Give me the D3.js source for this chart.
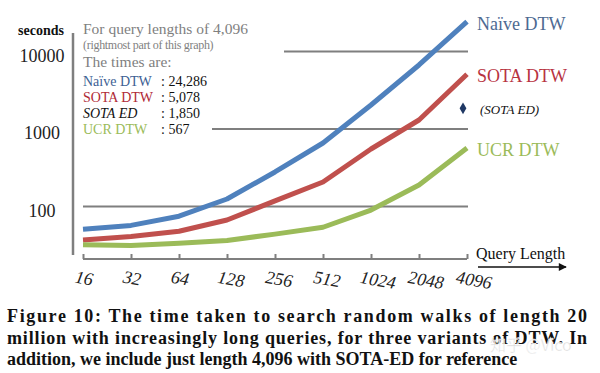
<!DOCTYPE html>
<html>
<head>
<meta charset="utf-8">
<script src="https://cdn.jsdelivr.net/npm/d3@7"></script>
<style>
  body { margin: 0; background: #fff; }
  svg { display: block; font-family: "Liberation Serif", "Times New Roman", serif; }
</style>
</head>
<body>
<svg id="chart" width="600" height="373"></svg>
<script>
// query lengths on the x axis
var queryLengths = [16, 32, 64, 128, 256, 512, 1024, 2048, 4096];

// seconds (last points from the annotation box)
var naiveDTW = [51, 57, 75, 125, 279, 660, 2040, 6700, 24286];
var sotaDTW  = [37, 41, 48, 67, 118, 207, 552, 1306, 5078];
var ucrDTW   = [32, 31.5, 33.5, 36.5, 44, 54, 90, 189, 567];
var sotaED   = [{ length: 4096, value: 1850 }];

var yTicks = [100, 1000, 10000];

var seriesNames  = ['Naïve DTW', 'SOTA DTW', 'UCR DTW'];
var seriesValues = [naiveDTW, sotaDTW, ucrDTW];
var seriesColors = ['#4f81bd', '#c0504d', '#9bbb59'];
var labelColors  = ['#4e6a92', '#b8333f', '#9bbb59'];

var boxTimes = [
    { name: 'Naïve DTW', value: '24,286', color: '#3d5f94', italic: false },
    { name: 'SOTA DTW',  value: '5,078',  color: '#b02a36', italic: false },
    { name: 'SOTA ED',   value: '1,850',  color: '#111',    italic: true },
    { name: 'UCR DTW',   value: '567',    color: '#9bbb59', italic: false }
];

var caption = [
    'Figure 10: The time taken to search random walks of length 20',
    'million with increasingly long queries, for three variants of DTW. In',
    'addition, we include just length 4,096 with SOTA-ED for reference'
];

var svg = d3.select('#chart');

var x = d3.scaleLog().base(2)
        .domain([16, 4096])
        .range([83, 467]);
var y = d3.scaleLog()
        .domain([100, 10000])
        .range([206.5, 51.5]);

// gridlines start further right where the text box sits
var gridStart = { 100: 83, 1000: 212, 10000: 284 };

svg.selectAll('.grid')
    .data(yTicks)
    .enter().append('line')
    .attr('class', 'grid')
    .attr('x1', function(d) { return gridStart[d]; })
    .attr('x2', 468)
    .attr('y1', function(d) { return y(d); })
    .attr('y2', function(d) { return y(d); })
    .attr('stroke', '#7f7f7f')
    .attr('stroke-width', 2);

// y axis
svg.append('line')
    .attr('x1', 73).attr('x2', 73)
    .attr('y1', 33).attr('y2', 255)
    .attr('stroke', '#7f7f7f')
    .attr('stroke-width', 2.5);

svg.selectAll('.ytick')
    .data(yTicks)
    .enter().append('text')
    .attr('class', 'ytick')
    .attr('x', 42)
    .attr('y', function(d) { return y(d) + 10; })
    .attr('text-anchor', 'middle')
    .attr('font-size', 18)
    .attr('fill', '#222')
    .text(function(d) { return d; });

svg.append('text')
    .attr('x', 18).attr('y', 35)
    .attr('font-size', 14)
    .attr('font-weight', 'bold')
    .attr('fill', '#111')
    .text('seconds');

// x axis
var xAxis = svg.append('g')
    .attr('transform', 'translate(0,259)')
    .call(d3.axisTop(x).tickValues(queryLengths).tickSize(5).tickFormat(''));
xAxis.select('.domain').remove();
xAxis.selectAll('.tick line')
    .attr('stroke', '#7f7f7f')
    .attr('stroke-width', 2);
xAxis.append('line')
    .attr('x1', x(16)).attr('x2', x(4096))
    .attr('stroke', '#7f7f7f')
    .attr('stroke-width', 2);

svg.selectAll('.xtick')
    .data(queryLengths)
    .enter().append('text')
    .attr('class', 'xtick')
    .attr('text-anchor', 'middle')
    .attr('font-size', 18)
    .attr('font-style', 'italic')
    .attr('fill', '#222')
    .attr('transform', function(d) {
        var n = String(d).length;
        return 'translate(' + (x(d) + (n - 2) * 3) + ',' + (284 + (n - 2)) + ') rotate(10)';
    })
    .text(function(d) { return d; });

svg.append('text')
    .attr('x', 476).attr('y', 259)
    .attr('font-size', 16)
    .attr('fill', '#111')
    .text('Query Length');

svg.append('defs').append('marker')
    .attr('id', 'arrow')
    .attr('viewBox', '0 0 10 10')
    .attr('refX', 9).attr('refY', 5)
    .attr('markerWidth', 10).attr('markerHeight', 8)
    .attr('markerUnits', 'userSpaceOnUse')
    .attr('orient', 'auto')
    .append('path')
    .attr('d', 'M0,0L10,5L0,10Z')
    .attr('fill', '#111');

svg.append('line')
    .attr('x1', 478).attr('x2', 566)
    .attr('y1', 267).attr('y2', 267)
    .attr('stroke', '#111')
    .attr('stroke-width', 1.3)
    .attr('marker-end', 'url(#arrow)');

// series lines
var line = d3.line()
    .x(function(d, i) { return x(queryLengths[i]); })
    .y(function(d) { return y(d); });

svg.selectAll('.series')
    .data(seriesValues)
    .enter().append('path')
    .attr('class', 'series')
    .attr('d', line)
    .attr('fill', 'none')
    .attr('stroke', function(d, i) { return seriesColors[i]; })
    .attr('stroke-width', 5)
    .attr('stroke-linejoin', 'round');

// SOTA ED point
svg.selectAll('.ed')
    .data(sotaED)
    .enter().append('path')
    .attr('class', 'ed')
    .attr('d', d3.symbol(d3.symbolDiamond, 40))
    .attr('transform', function(d) { return 'translate(' + (x(d.length) - 4) + ',' + y(d.value) + ')'; })
    .attr('fill', '#1f3864');

svg.append('text')
    .attr('x', 480)
    .attr('y', y(sotaED[0].value) + 6)
    .attr('font-size', 13)
    .attr('font-style', 'italic')
    .attr('fill', '#111')
    .text('(SOTA ED)');

// series labels at the right
svg.selectAll('.slabel')
    .data(seriesNames)
    .enter().append('text')
    .attr('class', 'slabel')
    .attr('x', 477)
    .attr('y', function(d, i) { return y(seriesValues[i][8]) + 8; })
    .attr('font-size', 18)
    .attr('fill', function(d, i) { return labelColors[i]; })
    .text(function(d) { return d; });

// text box
svg.append('text')
    .attr('x', 83).attr('y', 34)
    .attr('font-size', 15.5)
    .attr('fill', '#7f7f7f')
    .text('For query lengths of 4,096');
svg.append('text')
    .attr('x', 83).attr('y', 49)
    .attr('font-size', 12)
    .attr('letter-spacing', -0.3)
    .attr('fill', '#7f7f7f')
    .text('(rightmost part of this graph)');
svg.append('text')
    .attr('x', 83).attr('y', 67)
    .attr('font-size', 15.5)
    .attr('fill', '#7f7f7f')
    .text('The times are:');

var rows = svg.selectAll('.boxrow')
    .data(boxTimes)
    .enter().append('g')
    .attr('class', 'boxrow')
    .attr('transform', function(d, i) { return 'translate(83,' + (86 + i * 16) + ')'; });
rows.append('text')
    .attr('font-size', 14)
    .attr('font-style', function(d) { return d.italic ? 'italic' : 'normal'; })
    .attr('fill', function(d) { return d.color; })
    .text(function(d) { return d.name; });
rows.append('text')
    .attr('x', 78)
    .attr('font-size', 14)
    .attr('fill', '#111')
    .text(function(d) { return ': ' + d.value; });

// caption
svg.selectAll('.caption')
    .data(caption)
    .enter().append('text')
    .attr('class', 'caption')
    .attr('x', 7)
    .attr('y', function(d, i) { return 322 + i * 21.5; })
    .attr('font-size', 18)
    .attr('font-weight', 'bold')
    .attr('fill', '#111')
    .attr('textLength', function(d, i) { return i < 2 ? 580 : null; })
    .attr('lengthAdjust', 'spacing')
    .text(function(d) { return d; });

// watermark
svg.append('text')
    .attr('x', 490).attr('y', 351)
    .attr('font-size', 16)
    .attr('font-family', '"Noto Sans CJK SC", sans-serif')
    .attr('fill', '#d0d0d0')
    .attr('fill-opacity', 0.8)
    .attr('stroke', '#fff')
    .attr('stroke-width', 0.5)
    .text('知乎 @Vico');
</script>
</body>
</html>
